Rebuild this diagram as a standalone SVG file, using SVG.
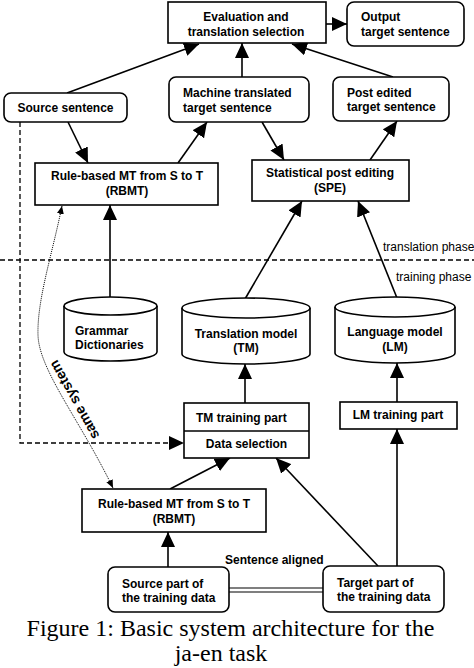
<svg xmlns="http://www.w3.org/2000/svg" width="474" height="668" viewBox="0 0 474 668">
<defs>
<style>
.box{fill:#fff;stroke:#000;stroke-width:1.6}
.t{font-family:"Liberation Sans",Arial,sans-serif;font-size:12px;font-weight:bold;fill:#000}
.c{text-anchor:middle}
.n{font-family:"Liberation Sans",Arial,sans-serif;font-size:12px;fill:#000}
.cap{font-family:"Liberation Serif","Times New Roman",serif;font-size:24px;fill:#000}
.ln{fill:none;stroke:#000;stroke-width:1.6}
.arr{marker-end:url(#ah)}
.dash{fill:none;stroke:#000;stroke-width:1.3;stroke-dasharray:5,3}
.dot{fill:none;stroke:#000;stroke-width:1;stroke-dasharray:1,1}
</style>
<marker id="ah" markerUnits="userSpaceOnUse" markerWidth="15" markerHeight="14" refX="15" refY="7" orient="auto"><path d="M0,0 L15,7 L0,14 z" fill="#000"/></marker>
<marker id="sa" markerUnits="userSpaceOnUse" markerWidth="8" markerHeight="7" refX="8" refY="3.5" orient="auto-start-reverse"><path d="M0,0 L8,3.5 L0,7 z" fill="#000"/></marker>
</defs>
<rect width="474" height="668" fill="#fff"/>

<g id="connectors">
<path class="ln arr" d="M326,24 L347,24"/>
<path class="ln arr" d="M67,93 L199,44"/>
<path class="ln arr" d="M242,77 L242,43"/>
<path class="ln arr" d="M393,77 L292,44"/>
<path class="ln arr" d="M68,122 L88,163"/>
<path class="ln arr" d="M178,163 L207,122"/>
<path class="ln arr" d="M262,122 L284,160"/>
<path class="ln arr" d="M370,160 L397,121"/>
<path class="ln arr" d="M110,297 L110,205"/>
<path class="ln arr" d="M245,299 L302,201"/>
<path class="ln arr" d="M397,298 L358,201"/>
<path class="ln arr" d="M245,403 L245,364"/>
<path class="ln arr" d="M397,402 L397,363"/>
<path class="ln arr" d="M170,489 L230,458"/>
<path class="ln arr" d="M378,566 L276,458"/>
<path class="ln arr" d="M397,566 L397,429"/>
<path class="ln arr" d="M168,567 L168,532"/>
<path class="dash" d="M20,122 L20,443 L170,443"/>
<path d="M169,436 L184,443 L169,450 z" fill="#000"/>
<path class="dash" d="M0,260 L474,260"/>
<path class="dot" d="M62,206 C52,255 37,300 38,335 C39,370 80,420 113,488" marker-start="url(#sa)" marker-end="url(#sa)"/>
<path class="ln" style="stroke-width:1.2" d="M229,588 L323,588 M229,592 L323,592"/>
</g>

<g id="eval"><rect class="box" x="168" y="2" width="158" height="41"/>
<text class="t c" x="246" y="20.5">Evaluation and</text><text class="t c" x="246" y="35.5">translation selection</text></g>
<g id="output"><rect class="box" x="347" y="2" width="117" height="44" rx="7"/>
<text class="t" x="361" y="20.5">Output</text><text class="t" x="361" y="35.5">target sentence</text></g>
<g id="source"><rect class="box" x="4" y="93" width="123" height="29" rx="7"/>
<text class="t c" x="65.5" y="112">Source sentence</text></g>
<g id="machine"><rect class="box" x="169" y="77" width="140" height="45" rx="7"/>
<text class="t" x="183" y="97">Machine translated</text><text class="t" x="183" y="111.5">target sentence</text></g>
<g id="post"><rect class="box" x="333" y="77" width="116" height="44" rx="7"/>
<text class="t" x="347" y="96.5">Post edited</text><text class="t" x="347" y="111">target sentence</text></g>
<g id="rbmt1"><rect class="box" x="35" y="163" width="183" height="42"/>
<text class="t c" x="127" y="180">Rule-based MT from S to T</text><text class="t c" x="127" y="195">(RBMT)</text></g>
<g id="spe"><rect class="box" x="252" y="160" width="157" height="41"/>
<text class="t c" x="330" y="177">Statistical post editing</text><text class="t c" x="330" y="192">(SPE)</text></g>

<g id="phases"><text class="n" x="383" y="251">translation phase</text><text class="n" x="396" y="281">training phase</text></g>

<g id="grammar"><path class="box" d="M64,306 A46.5,9 0 0 1 157,306 L157,352 A46.5,9 0 0 1 64,352 Z"/><path class="ln" d="M64,306 A46.5,9 0 0 0 157,306"/>
<text class="t" x="75" y="334.5">Grammar</text><text class="t" x="75" y="348.5">Dictionaries</text></g>
<g id="tm"><path class="box" d="M182,308 A64,10 0 0 1 310,308 L310,354 A64,10 0 0 1 182,354 Z"/><path class="ln" d="M182,308 A64,10 0 0 0 310,308"/>
<text class="t c" x="246" y="337.5">Translation model</text><text class="t c" x="246" y="352">(TM)</text></g>
<g id="lm"><path class="box" d="M335,307 A60,10 0 0 1 455,307 L455,353 A60,10 0 0 1 335,353 Z"/><path class="ln" d="M335,307 A60,10 0 0 0 455,307"/>
<text class="t c" x="395" y="336">Language model</text><text class="t c" x="395" y="351">(LM)</text></g>

<g id="tmtrain"><rect class="box" x="184" y="403" width="125" height="55"/><path class="ln" d="M184,431 L309,431"/>
<text class="t" x="196" y="422">TM training part</text><text class="t c" x="246.5" y="448">Data selection</text></g>
<g id="lmtrain"><rect class="box" x="340" y="402" width="117" height="27"/>
<text class="t c" x="398" y="419">LM training part</text></g>

<g id="samesystem"><text class="t" style="font-size:14px" transform="translate(74,400) rotate(-119)" text-anchor="middle" dy="5">same system</text></g>

<g id="rbmt2"><rect class="box" x="82" y="489" width="184" height="43"/>
<text class="t c" x="174" y="508">Rule-based MT from S to T</text><text class="t c" x="174" y="523">(RBMT)</text></g>
<g id="srcpart"><rect class="box" x="108" y="567" width="121" height="45" rx="7"/>
<text class="t" x="122" y="588">Source part of</text><text class="t" x="122" y="602">the training data</text></g>
<g id="tgtpart"><rect class="box" x="323" y="566" width="121" height="46" rx="7"/>
<text class="t" x="337" y="587">Target part of</text><text class="t" x="337" y="601">the training data</text></g>
<g id="aligned"><text class="t" x="225" y="564">Sentence aligned</text></g>

<g id="caption"><text class="cap c" x="230.5" y="635.5">Figure 1: Basic system architecture for the</text><text class="cap c" x="221" y="661">ja-en task</text></g>
</svg>
